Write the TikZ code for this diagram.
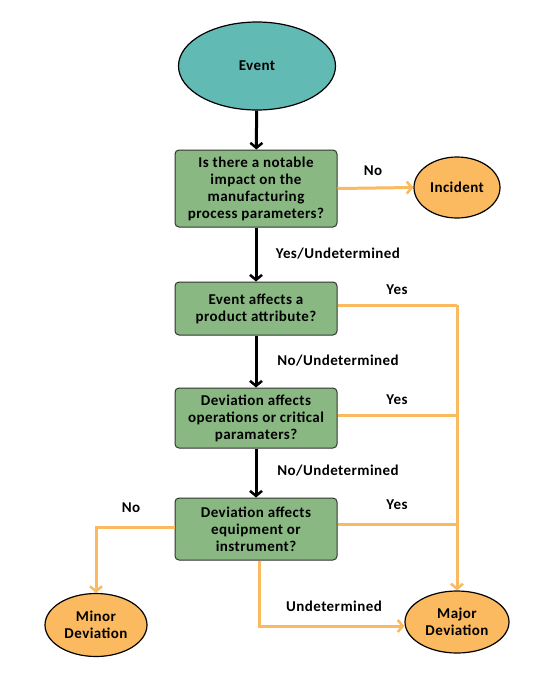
\documentclass[tikz,border=0pt]{standalone}
\usepackage{fontspec}
\setmainfont{Carlito}[LetterSpace=3]
\usetikzlibrary{arrows.meta,shapes.geometric}
\definecolor{tealfill}{HTML}{62BAB4}
\definecolor{greenfill}{HTML}{89B883}
\definecolor{orangefill}{HTML}{FBB960}
\definecolor{orangeline}{HTML}{FBB960}
\begin{document}
\begin{tikzpicture}[x=1pt,y=-1pt,
  txt/.style={font=\bfseries\fontsize{15}{17}\selectfont, align=center},
  decision/.style={txt, draw=black!80, line width=1pt, fill=greenfill, rounded corners=4pt, minimum width=162pt, inner sep=0pt},
  tealell/.style={txt, draw=black, line width=1.2pt, fill=tealfill, ellipse, inner sep=0pt},
  orangeell/.style={txt, draw=black, line width=1.2pt, fill=orangefill, ellipse, inner sep=0pt},
  blackarrow/.style={line width=3pt, -{Straight Barb[length=5pt,width=12pt,line width=2.5pt]}},
  orangearrow/.style={draw=orangeline, line width=3pt, -{Straight Barb[length=5pt,width=12pt,line width=2.5pt]}},
  orangeline/.style={draw=orangeline, line width=3pt},
  lbl/.style={font=\bfseries\fontsize{15}{17}\selectfont}
]
\useasboundingbox (0,0) rectangle (553,683);
\node[tealell, minimum width=157pt, minimum height=88pt] (event) at (257,66) {Event};
\node[decision, minimum height=77pt] (q1) at (256,188.5) {Is there a notable\\impact on the\\manufacturing\\process parameters?};
\node[orangeell, minimum width=86pt, minimum height=61pt] (incident) at (457,187.5) {Incident};
\node[decision, minimum height=53pt] (q2) at (256,308.5) {Event affects a\\product attribute?};
\node[decision, minimum height=60pt] (q3) at (256,418) {Deviation affects\\operations or critical\\paramaters?};
\node[decision, minimum height=62pt] (q4) at (256,529) {Deviation affects\\equipment or\\instrument?};
\node[orangeell, minimum width=104pt, minimum height=62pt] (major) at (457,622) {Major\\Deviation};
\node[orangeell, minimum width=102pt, minimum height=63pt] (minor) at (96,625) {Minor\\Deviation};
\coordinate (j2) at (457,305);
\coordinate (j3) at (457,415);
\coordinate (j4) at (457,524);
\coordinate (n4) at (96,527);
\coordinate (u4) at (259,626);

\draw[blackarrow] (event) -- (q1);
\draw[blackarrow] (q1) -- (q2);
\draw[blackarrow] (q2) -- (q3);
\draw[blackarrow] (q3) -- (q4);
\draw[orangearrow] (q1.east) -- (incident.west);
\draw[orangeline] (q2.east |- j2) -- (j2);
\draw[orangeline] (q3.east |- j3) -- (j3);
\draw[orangeline] (q4.east |- j4) -- (j4);
\draw[orangearrow] (j2) -- (major.north);
\draw[orangearrow] (q4.west |- n4) -- (n4) -- (minor.north);
\draw[orangearrow] (q4.south -| u4) -- (u4) -- (major.west |- u4);

\node[lbl] (lno1) at (373,171) {No};
\node[lbl] (lyu) at (338,254) {Yes/Undetermined};
\node[lbl] (lnu1) at (338,361) {No/Undetermined};
\node[lbl] (lnu2) at (338,471) {No/Undetermined};
\node[lbl] (ly1) at (397,290) {Yes};
\node[lbl] (ly2) at (397,400) {Yes};
\node[lbl] (ly3) at (397,505) {Yes};
\node[lbl] (lno2) at (131,508) {No};
\node[lbl] (lund) at (334,606) {Undetermined};
\end{tikzpicture}
\end{document}
